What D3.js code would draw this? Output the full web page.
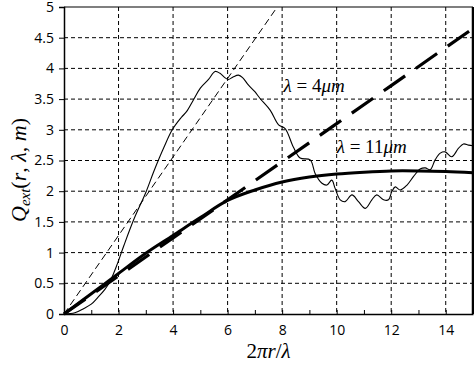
<!DOCTYPE html>
<html>
<head>
<meta charset="utf-8">
<script src="https://cdn.jsdelivr.net/npm/d3@7"></script>
<style>
    body { margin: 0; background: #fff; }
    .tick text { font-family: "Open Sans", sans-serif; font-size: 14px; fill: #000; }
    .math { font-family: "Liberation Serif", serif; fill: #000; }
</style>
</head>
<body>
<div class="chart-container"></div>
<script>
/* data */
const xTicks = [0, 2, 4, 6, 8, 10, 12, 14];
const xMinor = [1, 3, 5, 7, 9, 11, 13];
const yTicks = [0, 0.5, 1, 1.5, 2, 2.5, 3, 3.5, 4, 4.5, 5];

// thin dashed straight line
const smallLimit = [[0, 0], [7.82, 5]];
// lambda = 4 um (thick long dashes)
const lambda4 = [[0, 0], [2, 0.62], [4, 1.24], [6, 1.86], [8, 2.48], [10, 3.1], [12, 3.72], [14, 4.34], [15, 4.65]];
// lambda = 11 um (thick solid)
const lambda11 = [[0, 0], [1, 0.33], [2, 0.66], [3, 0.99], [4, 1.28], [5, 1.57], [6, 1.85], [7, 2.02], [8, 2.15],
    [9, 2.23], [10, 2.28], [11, 2.31], [12, 2.33], [13, 2.33], [14, 2.32], [15, 2.3]];
// thin solid oscillating curve
const thinCurve = [[0, 0], [0.4, 0.02], [0.73, 0.09], [1, 0.16], [1.22, 0.26], [1.5, 0.4], [1.71, 0.55], [1.96, 0.82],
    [2.2, 1.12], [2.57, 1.55], [3, 1.98], [3.3, 2.33], [3.67, 2.72], [3.97, 3.0], [4.3, 3.2], [4.5, 3.3], [4.75, 3.49],
    [5, 3.68], [5.3, 3.82], [5.54, 3.95], [5.72, 3.92], [5.9, 3.85], [6.03, 3.82], [6.2, 3.86], [6.4, 3.89], [6.55, 3.85],
    [6.76, 3.73], [7, 3.62], [7.19, 3.51], [7.56, 3.32], [7.87, 3.08], [8.11, 3.02], [8.41, 2.72], [8.66, 2.54],
    [9.03, 2.51], [9.21, 2.29], [9.46, 2.13], [9.64, 2.1], [9.82, 2.18], [9.94, 2.05], [10.13, 1.86], [10.31, 1.83],
    [10.56, 1.94], [10.8, 1.83], [11.05, 1.72], [11.29, 1.86], [11.47, 1.94], [11.72, 1.86], [11.9, 1.86], [12.02, 1.99],
    [12.15, 2.07], [12.33, 2.02], [12.58, 2.1], [12.82, 2.24], [13.06, 2.36], [13.25, 2.38], [13.43, 2.35], [13.61, 2.51],
    [13.8, 2.62], [13.98, 2.64], [14.22, 2.56], [14.47, 2.7], [14.65, 2.77], [14.84, 2.75], [15, 2.74]];

/* svg setup */
const svg_width = 474;
const svg_height = 366;
const chart_margin = { top: 7, right: 1, bottom: 52, left: 64 };
const chart_width = svg_width - (chart_margin.left + chart_margin.right);
const chart_height = svg_height - (chart_margin.top + chart_margin.bottom);

const svg = d3.select(".chart-container").append("svg")
    .attr("width", svg_width)
    .attr("height", svg_height);
const g = svg.append("g")
    .attr("transform", `translate(${chart_margin.left},${chart_margin.top})`);

/* scales */
const xScale = d3.scaleLinear().domain([0, 15]).range([0, chart_width]);
const yScale = d3.scaleLinear().domain([0, 5]).range([chart_height, 0]);

/* grid */
const grid = g.append("g").attr("class", "grid")
    .attr("stroke", "#000").attr("stroke-width", 1).attr("stroke-dasharray", "4,3");
grid.selectAll(".hgrid").data(yTicks.filter(d => d > 0 && d < 5)).join("line")
    .attr("x1", 0).attr("x2", chart_width)
    .attr("y1", d => yScale(d)).attr("y2", d => yScale(d));
grid.selectAll(".vgrid").data(xTicks.filter(d => d > 0)).join("line")
    .attr("y1", 0).attr("y2", chart_height)
    .attr("x1", d => xScale(d)).attr("x2", d => xScale(d));

/* curves */
const lineGen = d3.line()
    .x(d => xScale(d[0]))
    .y(d => yScale(d[1]));
const smoothGen = d3.line()
    .x(d => xScale(d[0]))
    .y(d => yScale(d[1]))
    .curve(d3.curveCatmullRom.alpha(0.5));

g.append("path").datum(smallLimit)
    .attr("d", lineGen).attr("fill", "none")
    .attr("stroke", "#000").attr("stroke-width", 1).attr("stroke-dasharray", "7,4");
g.append("path").datum(thinCurve)
    .attr("d", smoothGen).attr("fill", "none")
    .attr("stroke", "#000").attr("stroke-width", 1.1);
g.append("path").datum(lambda11)
    .attr("d", smoothGen).attr("fill", "none")
    .attr("stroke", "#000").attr("stroke-width", 3);
g.append("path").datum(lambda4)
    .attr("d", lineGen).attr("fill", "none")
    .attr("stroke", "#000").attr("stroke-width", 3.2).attr("stroke-dasharray", "26,13");

/* axes */
const yAxis = d3.axisLeft(yScale).tickValues(yTicks).tickSize(5).tickPadding(5)
    .tickFormat(d3.format("~g"));
g.append("g").attr("class", "y axis").call(yAxis)
    .call(a => a.select(".domain").attr("stroke-width", 1.5));

const xAxis = d3.axisBottom(xScale).tickValues(xTicks).tickSizeInner(-4).tickSizeOuter(0).tickPadding(11);
g.append("g").attr("class", "x axis")
    .attr("transform", `translate(0,${chart_height})`)
    .call(xAxis)
    .call(a => a.select(".domain").attr("stroke-width", 1.5));

const xMinorAxis = d3.axisBottom(xScale).tickValues(xMinor).tickSizeInner(-4).tickSizeOuter(0).tickFormat("");
g.append("g").attr("class", "x minor")
    .attr("transform", `translate(0,${chart_height})`)
    .call(xMinorAxis)
    .call(a => a.select(".domain").remove());

/* frame top / right */
g.append("line").attr("x1", 0).attr("x2", chart_width).attr("y1", 0).attr("y2", 0)
    .attr("stroke", "#000").attr("stroke-width", 1.2);
g.append("line").attr("x1", chart_width).attr("x2", chart_width).attr("y1", 0).attr("y2", chart_height)
    .attr("stroke", "#000").attr("stroke-width", 2.5);

/* curve labels */
const lab4 = g.append("text").attr("class", "math")
    .attr("x", xScale(8.05)).attr("y", yScale(3.62))
    .attr("font-size", 19);
lab4.append("tspan").attr("font-style", "italic").text("λ");
lab4.append("tspan").text(" = 4");
lab4.append("tspan").attr("font-style", "italic").text("μm");

const lab11 = g.append("text").attr("class", "math")
    .attr("x", xScale(10.0)).attr("y", yScale(2.63))
    .attr("font-size", 19);
lab11.append("tspan").attr("font-style", "italic").text("λ");
lab11.append("tspan").text(" = 11");
lab11.append("tspan").attr("font-style", "italic").text("μm");

/* x label */
const xLab = svg.append("text").attr("class", "math")
    .attr("x", chart_margin.left + xScale(7.5)).attr("y", 358)
    .attr("text-anchor", "middle").attr("font-size", 21);
xLab.append("tspan").text("2");
xLab.append("tspan").attr("font-style", "italic").text("πr");
xLab.append("tspan").text("/");
xLab.append("tspan").attr("font-style", "italic").text("λ");

/* y label */
const yLab = svg.append("text").attr("class", "math")
    .attr("transform", `translate(26,${170}) rotate(-90)`)
    .attr("text-anchor", "middle").attr("font-size", 22);
yLab.append("tspan").attr("font-style", "italic").text("Q");
yLab.append("tspan").attr("font-style", "italic").attr("font-size", 15).attr("dy", 4).text("ext");
yLab.append("tspan").attr("dy", -4).text("(");
yLab.append("tspan").attr("font-style", "italic").text("r");
yLab.append("tspan").text(", ");
yLab.append("tspan").attr("font-style", "italic").text("λ");
yLab.append("tspan").text(", ");
yLab.append("tspan").attr("font-style", "italic").text("m");
yLab.append("tspan").text(")");
</script>
</body>
</html>
